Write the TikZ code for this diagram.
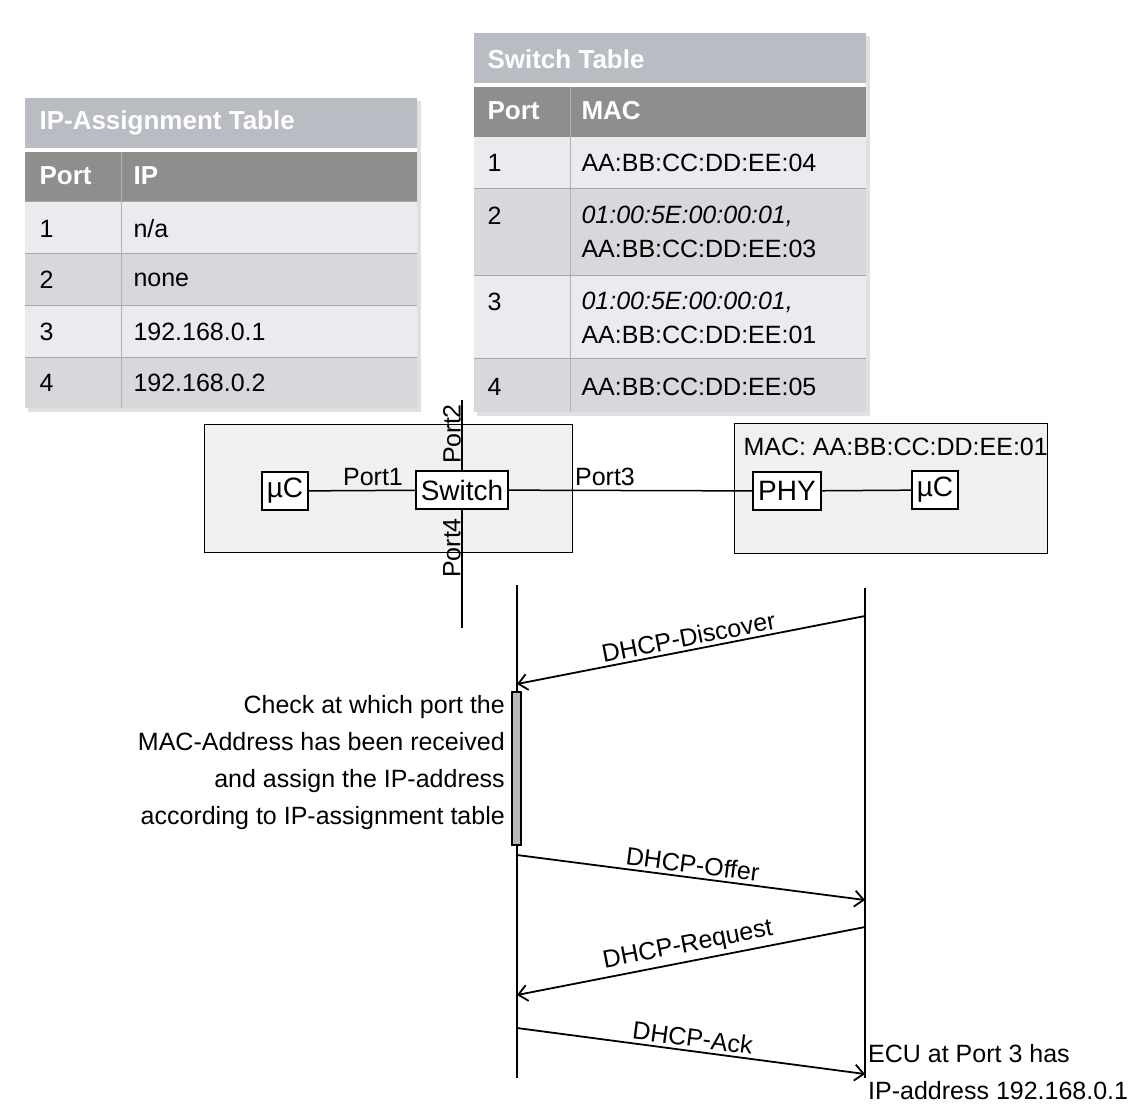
\documentclass[tikz,border=0pt]{standalone}
\usepackage{fontspec}
\setmainfont{Liberation Sans}
\usetikzlibrary{arrows.meta}
\definecolor{ttl}{HTML}{B9BCC3}
\definecolor{hdr}{HTML}{8E8E8E}
\definecolor{rowA}{HTML}{E9EBEE}
\definecolor{rowB}{HTML}{D6D8DC}
\definecolor{boxbg}{HTML}{F0F0F0}
\begin{document}
\begin{tikzpicture}[x=1pt,y=-1pt,
  tt/.style={font=\fontsize{26}{28}\selectfont\bfseries,text=white,anchor=west},
  td/.style={font=\fontsize{25}{34}\selectfont,anchor=west,align=left},
  bx/.style={draw,line width=1.5pt,fill=white,font=\fontsize{28}{30}\selectfont,inner xsep=5pt,minimum height=38pt},
  ln/.style={line width=1.5pt},
  msg/.style={line width=1.8pt,-{Straight Barb[length=9pt,width=16pt]}},
  lab/.style={font=\fontsize{25}{27}\selectfont},
  sm/.style={font=\fontsize{25}{27}\selectfont}]
\useasboundingbox (0,0) rectangle (1142,1117);
% IP table
\fill[gray!40,opacity=.6] (28,101) rectangle (421,412);
\fill[ttl] (25,98) rectangle (417,148);
\fill[white] (25,148) rectangle (417,152);
\fill[hdr] (25,152) rectangle (417,201);
\fill[rowA] (25,201) rectangle (417,253);
\fill[rowB] (25,253) rectangle (417,305);
\fill[rowA] (25,305) rectangle (417,357);
\fill[rowB] (25,357) rectangle (417,408);
\foreach \y in {201,253,305,357}{\draw[gray!70] (25,\y) -- (417,\y);}
\draw[gray!60,line width=1pt] (121,152) -- (121,408);
\node[tt] (ipt) at (36,123) {IP-Assignment Table};
\node[tt] (iph1) at (36,176) {Port};
\node[tt] (iph2) at (130,176) {IP};
\node[td] (ip1a) at (36,229) {1}; \node[td] (ip1b) at (130,229) {n/a};
\node[td] (ip2a) at (36,280) {2}; \node[td] (ip2b) at (130,280) {none};
\node[td] (ip3a) at (36,332) {3}; \node[td] (ip3b) at (130,332) {192.168.0.1};
\node[td] (ip4a) at (36,383) {4}; \node[td] (ip4b) at (130,383) {192.168.0.2};
% Switch table
\fill[gray!40,opacity=.6] (477,36) rectangle (870,416);
\fill[ttl] (474,33) rectangle (866,83);
\fill[white] (474,83) rectangle (866,87);
\fill[hdr] (474,87) rectangle (866,137);
\fill[rowA] (474,137) rectangle (866,188);
\fill[rowB] (474,188) rectangle (866,275);
\fill[rowA] (474,275) rectangle (866,358);
\fill[rowB] (474,358) rectangle (866,412);
\foreach \y in {188,275,358}{\draw[gray!70] (474,\y) -- (866,\y);}
\draw[gray!60,line width=1pt] (570,87) -- (570,412);
\node[tt] (swt) at (484,59) {Switch Table};
\node[tt] (swh1) at (484,111) {Port};
\node[tt] (swh2) at (578,111) {MAC};
\node[td] (sw1a) at (484,163) {1}; \node[td] (sw1b) at (578,163) {AA:BB:CC:DD:EE:04};
\node[td] (sw2a) at (484,216) {2}; \node[td] (sw2b) at (578,232) {\itshape 01:00:5E:00:00:01,\\AA:BB:CC:DD:EE:03};
\node[td] (sw3a) at (484,302) {3}; \node[td] (sw3b) at (578,318) {\itshape 01:00:5E:00:00:01,\\AA:BB:CC:DD:EE:01};
\node[td] (sw4a) at (484,387) {4}; \node[td] (sw4b) at (578,387) {AA:BB:CC:DD:EE:05};
% boxes
\draw[fill=boxbg,line width=1pt] (204,424) rectangle (572,552);
\draw[fill=boxbg,line width=1pt] (734,423) rectangle (1047,553);
\coordinate (vt) at (462,400);
\coordinate (vb) at (462,628);
\draw[ln] (vt) -- (vb);
\node[bx] (uc1) at (285,491) {µC};
\node[bx] (sw) at (462,490) {Switch};
\node[bx] (phy) at (787,491) {PHY};
\node[bx] (uc2) at (935,490) {µC};
\draw[ln] (uc1) -- (sw);
\draw[ln] (sw) -- (phy);
\draw[ln] (phy) -- (uc2);
\node[lab] (p1) at (373,477) {Port1};
\node[lab] (p3) at (605,477) {Port3};
\node[lab,rotate=90] (p2) at (452,434) {Port2};
\node[lab,rotate=90] (p4) at (452,548) {Port4};
\node[lab,anchor=west] (mac) at (740,447) {MAC: AA:BB:CC:DD:EE:01};
% lifelines
\coordinate (l1t) at (517,585); \coordinate (l1b) at (517,1078);
\coordinate (l2t) at (865,588); \coordinate (l2b) at (865,1078);
\draw[ln] (l1t) -- (l1b);
\draw[ln] (l2t) -- (l2b);
\draw[fill=gray!55,line width=1.2pt] (512,692) rectangle (521,845);
\coordinate (d1) at (865,616); \coordinate (d2) at (517,684);
\coordinate (o1) at (517,855); \coordinate (o2) at (865,900);
\coordinate (r1) at (865,927); \coordinate (r2) at (517,995);
\coordinate (a1) at (517,1028); \coordinate (a2) at (865,1074);
\draw[msg] (d1) -- node[sm,above,sloped] {DHCP-Discover} (d2);
\draw[msg] (o1) -- node[sm,above,sloped] {DHCP-Offer} (o2);
\draw[msg] (r1) -- node[sm,above,sloped] {DHCP-Request} (r2);
\draw[msg] (a1) -- node[sm,above,sloped] {DHCP-Ack} (a2);
\node[anchor=north east,align=right,inner sep=0pt,font=\fontsize{25}{37}\selectfont] (chk) at (505,695) {Check at which port the\\MAC-Address has been received\\and assign the IP-address\\according to IP-assignment table};
\node[anchor=north west,align=left,inner sep=0pt,font=\fontsize{25}{37}\selectfont] (ecu) at (868,1044) {ECU at Port 3 has\\IP-address 192.168.0.1};
\end{tikzpicture}
\end{document}
